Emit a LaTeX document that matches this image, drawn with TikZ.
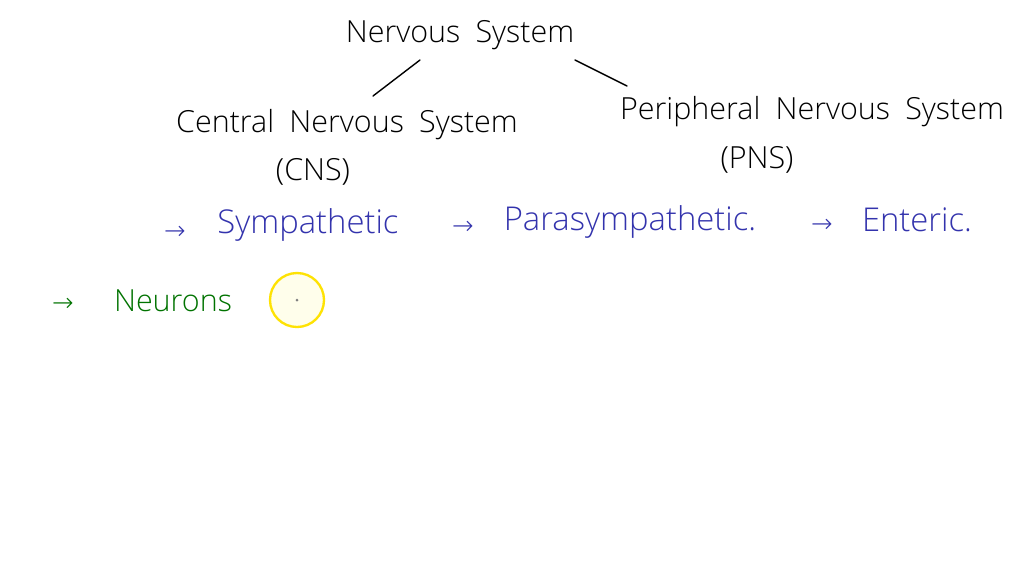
\documentclass[tikz,border=0pt]{standalone}
\usepackage{fontspec}
\setmainfont{Open Sans Light}[BoldFont=Open Sans]
\newfontfamily\symf{DejaVu Sans ExtraLight}
\begin{document}
\begin{tikzpicture}[x=0.03cm,y=-0.03cm,
  blk/.style={font=\fontsize{26}{30}\selectfont,text=black},
  blu/.style={font=\fontsize{28}{32}\selectfont,text=blue!60!black!80},
  grn/.style={font=\fontsize{26}{30}\selectfont,text=green!45!black},
  arr/.style={font=\symf\fontsize{22}{26}\selectfont},
  conn/.style={line width=1.2pt,line cap=round}]
\useasboundingbox[fill=white] (0,0) rectangle (1024,576);
\node[blk] (ns) at (460,35) {Nervous\enspace System};
\node[blk] (cns) at (347,125) {Central\enspace Nervous\enspace System};
\node[blk] (cnsa) at (313,172) {(CNS)};
\node[blk] (pns) at (812,112) {Peripheral\enspace Nervous\enspace System};
\node[blk] (pnsa) at (757,160) {(PNS)};
\coordinate (a1) at (420,60); \coordinate (a2) at (373,96);
\coordinate (b1) at (575,60); \coordinate (b2) at (627,86);
\draw[conn] (a1) -- (a2);
\draw[conn] (b1) -- (b2);
\node[arr,text=blue!60!black!80] (r1) at (175,233) {→};
\node[blu] (sym) at (308,225) {Sympathetic};
\node[arr,text=blue!60!black!80] (r2) at (463,228) {→};
\node[blu] (par) at (630,222) {Parasympathetic.};
\node[arr,text=blue!60!black!80] (r3) at (822,226) {→};
\node[blu] (ent) at (917,220) {Enteric.};
\node[arr,text=green!45!black] (r4) at (63,305) {→};
\node[grn] (neu) at (173,301) {Neurons};
\draw[yellow!85!orange,line width=2pt,fill=yellow!8] (297,300) circle (27);
\fill[gray] (297,300) circle (1.5);
\end{tikzpicture}
\end{document}
